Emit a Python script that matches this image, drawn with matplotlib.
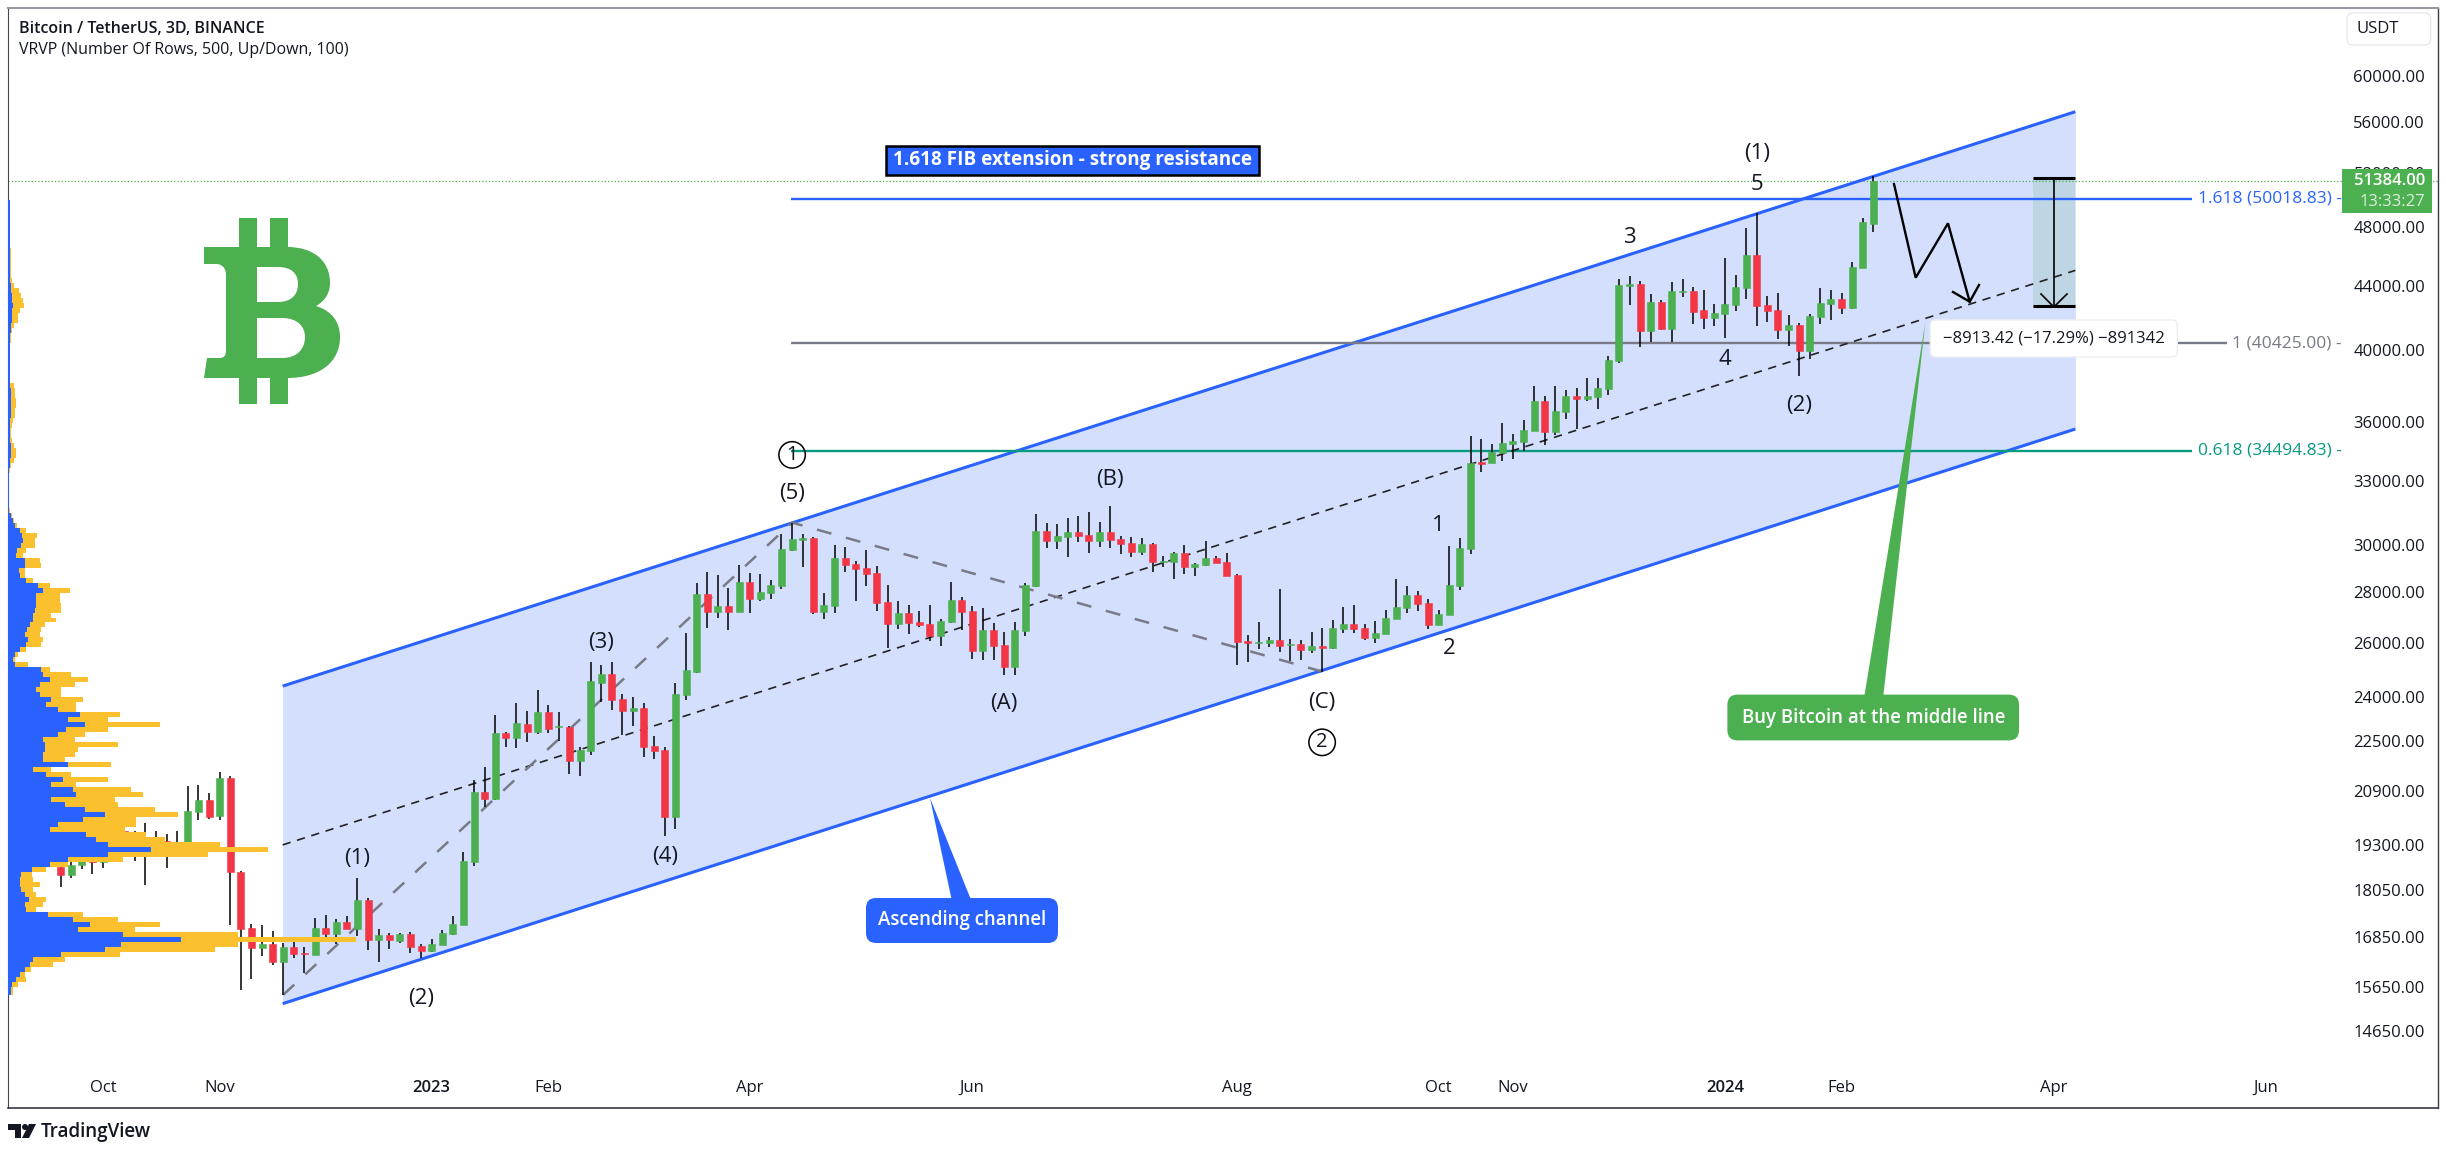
import matplotlib
matplotlib.use("Agg")
import matplotlib.pyplot as plt
import numpy as np
from matplotlib.patches import Circle, FancyBboxPatch, PathPatch, Polygon, Rectangle
from matplotlib.path import Path
from matplotlib.ticker import NullLocator

plt.rcParams['font.family'] = ['Open Sans', 'DejaVu Sans']

# 3D candles
opens = [18663, 18443, 18740, 19000, 18800, 19050, 19700, 19350, 19500, 19300, 19400, 19200, 19378, 20260, 20609, 20120,
         21302, 18546, 17077, 16572, 16673, 16239, 16597, 16450, 16404, 17077, 16925, 17228, 17051, 17785, 16756, 16900,
         16730, 16925, 16622, 16497, 16648, 16925, 17153, 18817, 20861, 20640, 22762, 22593, 23070, 22800, 23476, 22950,
         22956, 21818, 22164, 24505, 24834, 23917, 23510, 23612, 22322, 22186, 20111, 24066, 24906, 27934, 27207, 27444,
         27207, 28441, 27720, 27976, 28272, 29797, 30253, 30345, 27207, 27444, 29459, 29205, 29036, 28822, 27600, 26735,
         27168, 26814, 26735, 26263, 26814, 27680, 27245, 25675, 26500, 25910, 25090, 26460, 28272, 30663, 30207, 30390,
         30617, 30481, 30207, 30617, 30299, 30130, 29712, 30071, 29277, 29289, 29670, 29078, 29163, 29459, 29289, 28737,
         26067, 25988, 25988, 26106, 25910, 25948, 25712, 25870, 25790, 26540, 26735, 26579, 26185, 26343, 26933, 27364,
         27890, 27560, 26696, 27089, 28272, 29843, 33930, 33880, 34371, 34850, 34956, 35538, 37123, 35485, 36541, 37404,
         37233, 37347, 37802, 39395, 44008, 44140, 41185, 42961, 41307, 43612, 43678, 42471, 41980, 42226, 42778, 43876,
         46060, 42778, 42471, 41246, 41553, 39963, 42041, 42839, 43150, 42594, 45194, 48190]
highs = [18925, 18925, 19100, 19150, 19300, 19800, 19800, 19700, 19926, 19700, 19600, 19700, 21030, 21082, 20839, 21470,
         21365, 18573, 17178, 17135, 16999, 16690, 16774, 16589, 17330, 17405, 17304, 17362, 18375, 17840, 17051, 16950,
         16950, 16975, 16673, 16800, 17026, 17380, 19090, 21239, 21650, 23374, 22780, 23780, 23510, 24249, 23712, 23460,
         23000, 22290, 25247, 25163, 25247, 24102, 24000, 23790, 22660, 22290, 24500, 26382, 28399, 28865, 28737, 28187,
         29163, 28822, 28780, 28526, 30527, 31030, 30527, 30390, 27976, 30025, 29935, 29332, 29797, 29120, 28315, 27640,
         27470, 27245, 27470, 26933, 28441, 27807, 27444, 27364, 26775, 26420, 26814, 28399, 31440, 31028, 30983, 31256,
         31350, 31497, 31042, 31800, 30435, 30390, 30344, 30116, 29543, 29712, 30025, 29250, 30207, 29543, 29670, 28780,
         26303, 26814, 26224, 28145, 26146, 26106, 26420, 26579, 26893, 27404, 27470, 26735, 26854, 27285, 28568, 28272,
         28060, 27720, 27285, 29980, 30344, 35274, 35098, 34850, 35961, 35380, 36120, 37973, 37404, 37973, 37745, 37860,
         38428, 38428, 39680, 44470, 44668, 44338, 43480, 43084, 44272, 44470, 43942, 43744, 42839, 45854, 44734, 47943,
         49000, 43348, 43546, 42165, 41675, 42226, 43876, 43744, 43546, 45590, 48600, 51750]
lows = [18120, 18375, 18627, 18472, 18650, 18950, 19100, 18850, 18193, 19100, 18650, 19050, 19300, 20002, 20040, 20020,
        17153, 15581, 15823, 16364, 16169, 15464, 16333, 15973, 16390, 16845, 16673, 17040, 16856, 16521, 16239, 16540,
        16700, 16450, 16326, 16474, 16640, 16900, 17140, 18709, 20404, 20600, 22288, 22260, 22457, 22708, 22735, 22490,
        21430, 21345, 22030, 23820, 23544, 22684, 23000, 21975, 21910, 19534, 19759, 23883, 24870, 26579, 26970, 26500,
        27180, 27168, 27640, 27720, 28145, 29755, 29078, 27100, 26930, 27168, 28865, 27640, 28272, 27245, 25790, 26540,
        26343, 26617, 26067, 25870, 26775, 26500, 25383, 25346, 25346, 24798, 24798, 26263, 28230, 29880, 29840, 29500,
        30160, 29670, 29934, 29888, 29627, 29500, 29586, 28865, 29078, 28568, 28780, 28695, 29120, 29240, 28680, 25163,
        25273, 25750, 25830, 25640, 25310, 25346, 25600, 24910, 25750, 26382, 26382, 26106, 25988, 26320, 26920, 27168,
        27245, 26540, 26690, 27060, 28105, 29628, 33420, 33870, 33993, 34091, 34484, 35500, 34800, 35326, 36173, 35644,
        37123, 36700, 37460, 39280, 42777, 40190, 40510, 41246, 40510, 43280, 41614, 41307, 41491, 40755, 42410, 43150,
        41491, 41736, 40694, 40265, 38540, 39508, 41614, 41858, 42226, 42550, 45170, 47650]
closes = [18443, 18736, 18850, 18800, 19050, 19550, 19350, 19500, 19300, 19400, 19200, 19378, 20287, 20609, 20102, 21302,
          18526, 17051, 16579, 16673, 16239, 16597, 16427, 16430, 17077, 16925, 17228, 17051, 17785, 16756, 16900, 16756,
          16925, 16597, 16497, 16673, 16950, 17178, 18840, 20861, 20640, 22762, 22593, 23080, 22800, 23476, 22880, 22990,
          21818, 22186, 24578, 24834, 23883, 23510, 23612, 22288, 22155, 20111, 24102, 24980, 27934, 27207, 27444, 27207,
          28441, 27720, 28018, 28315, 29840, 30300, 30345, 27207, 27470, 29459, 29163, 28993, 28780, 27565, 26735, 27168,
          26775, 26696, 26263, 26854, 27680, 27207, 25675, 26500, 25870, 25090, 26500, 28315, 30663, 30207, 30435, 30617,
          30435, 30207, 30617, 30253, 30071, 29712, 30071, 29289, 29332, 29670, 29078, 29205, 29459, 29250, 28695, 26025,
          25988, 26025, 26106, 25870, 25948, 25712, 25870, 25790, 26579, 26735, 26540, 26185, 26382, 26950, 27404, 27890,
          27522, 26696, 27128, 28315, 29888, 33895, 33850, 34435, 34903, 35009, 35591, 37123, 35485, 36594, 37404, 37233,
          37404, 37860, 39451, 44074, 44140, 41185, 42961, 41307, 43678, 43678, 42347, 41980, 42287, 42839, 43942, 46060,
          42716, 42410, 41246, 41553, 39963, 42103, 42900, 43150, 42594, 45260, 48318, 51384]

# visible range volume profile, one entry per row from the top row down
vp_total = [2, 2, 2, 2, 2, 2, 2, 2, 2, 2, 3, 3, 3, 3, 3, 3, 4,
            6, 11, 13, 15, 16, 12, 10, 10, 6, 4, 3, 3, 2,
            2, 2, 2, 2, 2, 2, 2,
            6, 7, 7, 8, 8, 7, 7, 5, 4, 3, 3, 4, 6, 8, 8, 6, 3, 2,
            1, 1, 1, 1, 1, 1, 1, 2, 4,
            6, 9, 18, 29, 27, 27, 18, 15, 32, 33, 17, 17, 25, 42, 62, 52, 52, 53, 53, 43,
            48, 37, 33, 32, 35, 33, 18, 10, 7, 20, 42, 63, 80, 67, 53, 53, 75, 68, 68, 112,
            100, 152, 100, 77, 67, 110, 70, 67, 57, 103, 43, 63,
            100, 68, 123, 135, 107, 110, 147, 170, 128, 128, 117, 138, 157, 212, 260, 200, 115, 60, 38, 24,
            25, 32, 25, 28, 38, 35, 28, 75, 110, 152, 127, 230, 348, 230, 207, 112, 57, 45, 23, 17,
            18, 10, 5, 5]
vp_up = [2, 2, 2, 2, 2, 2, 2, 2, 2, 2, 2, 2, 2, 2, 2, 2, 2,
         3, 3, 4, 4, 5, 4, 4, 4, 3, 3, 2, 2, 2,
         2, 2, 2, 2, 2, 2, 2,
         2, 3, 3, 3, 3, 3, 3, 2, 2, 2, 2, 2, 3, 3, 3, 2, 2, 1,
         1, 1, 1, 1, 1, 1, 1, 1, 3,
         5, 7, 12, 14, 15, 13, 9, 8, 17, 17, 11, 12, 18, 30, 35, 28, 28, 28, 27, 25,
         25, 22, 19, 17, 20, 18, 12, 7, 5, 7, 33, 35, 42, 32, 28, 32, 43, 38, 50, 72,
         60, 77, 58, 50, 35, 37, 37, 35, 35, 60, 25, 38,
         55, 43, 65, 68, 43, 57, 77, 97, 75, 50, 42, 78, 88, 100, 143, 100, 60, 42, 24, 13,
         12, 12, 13, 17, 21, 17, 18, 40, 65, 82, 70, 115, 173, 113, 97, 53, 25, 22, 17, 12,
         8, 4, 3, 3]

price_ticks = [60000, 56000, 52000, 48000, 44000, 40000, 36000, 33000, 30000, 28000, 26000, 24000,
               22500, 20900, 19300, 18050, 16850, 15650, 14650]
time_ticks = [4, 15, 35, 46, 65, 86, 111, 130, 137, 157, 168, 188, 208]
time_labels = ["Oct", "Nov", "2023", "Feb", "Apr", "Jun", "Aug", "Oct", "Nov", "2024", "Feb", "Apr", "Jun"]

fib_levels = [50018.83, 40425.00, 34494.83]
fib_names = ["1.618 (50018.83) -", "1 (40425.00) -", "0.618 (34494.83) -"]
fib_colors = ["#2962ff", "#787b86", "#089981"]
fib_ends = [201.1, 204.4, 201.1]

wave_labels = ["(1)", "(2)", "(3)", "(4)", "(5)", "(A)", "(B)", "(C)", "1", "2", "3", "4", "5", "(1)", "(2)"]
wave_x = [28, 34, 51, 57, 69, 89, 99, 119, 130, 131, 148, 157, 160, 160, 164]
wave_y = [18900, 15370, 26000, 18950, 32386, 23780, 33059, 23785, 30900, 25790, 47284, 39450, 51080, 53508, 36891]

channel_x = [20.94, 190.06]
channel_top = [24380, 56883]
channel_mid = [19290, 45014]
channel_bottom = [15263, 35622]

last_price = 51384
range_top, range_bottom = 51560, 42720

GREEN = "#4caf50"
RED = "#f23645"
BLUE = "#2962ff"
GOLD = "#fbc02d"
DARK = "#131722"

fig = plt.figure(figsize=(24.46, 11.55), dpi=100, facecolor="white")
ax = fig.add_axes([8 / 2446, 1 - 1108 / 1155, 2430 / 2446, 1100 / 1155])
ax.set_yscale("log")
ax.set_xlim(-4.97, 224.27)
ax.set_ylim(13086, 66283)

# channel
ax.fill_between(channel_x, channel_bottom, channel_top, color="#d3dffd", lw=0, zorder=1)
ax.plot(channel_x, channel_top, color=BLUE, lw=2.2, zorder=3, solid_capstyle="butt")
ax.plot(channel_x, channel_bottom, color=BLUE, lw=2.2, zorder=3, solid_capstyle="butt")
ax.plot(channel_x, channel_mid, color="#222222", lw=1.2, ls=(0, (5, 4)), zorder=4)

# measured range
ax.fill_between([186.1, 190.06], range_bottom, range_top, color="#bed6e3", lw=0, zorder=1.5)
ax.hlines([range_top, range_bottom], 186.1, 190.06, color="black", lw=2.2, zorder=6)

# candles
xs = np.arange(len(opens))
o, h, l, c = map(np.array, (opens, highs, lows, closes))
colors = np.where(c >= o, GREEN, RED)
body_low = np.minimum(o, c)
body_high = np.maximum(o, c)
ax.vlines(xs, l, h, color="black", lw=1.1, zorder=4.5)
ax.bar(xs, body_high - body_low, bottom=body_low, width=0.66, color=colors, edgecolor=colors, lw=0.4, zorder=5)

# fib levels
for level, name, color, end in zip(fib_levels, fib_names, fib_colors, fib_ends):
    ax.hlines(level, 68.9, end, color=color, lw=1.7, zorder=3)
    ax.text(215.2, level, name, color=color, fontsize=12.5, ha="right", va="center", zorder=6)

# elliott wave path
ax.plot([21, 69, 119], [lows[21], highs[69], lows[119]], color="#787b86", lw=1.8, ls=(0, (6, 6)), zorder=4.2)

ax.axhline(last_price, color=GREEN, lw=0.9, ls=":", zorder=2)

for text, x, y in zip(wave_labels, wave_x, wave_y):
    ax.text(x, y, text, fontsize=16, ha="center", va="center", color=DARK, zorder=7)

circle_box = dict(boxstyle="circle,pad=0.16", fc="none", ec="black", lw=1.1)
ax.text(69, 34290, "1", fontsize=14.5, ha="center", va="center", color=DARK, bbox=circle_box, zorder=7)
ax.text(119, 22440, "2", fontsize=14.5, ha="center", va="center", color=DARK, bbox=circle_box, zorder=7)

# axis labels sit inside the chart frame, like the TradingView panes
ax.yaxis.tick_right()
ax.set_yticks(price_ticks, [f"{p:.2f}" for p in price_ticks])
ax.yaxis.set_minor_locator(NullLocator())
ax.tick_params(axis="y", length=0, pad=-9.4, labelsize=12, labelcolor=DARK)
for label in ax.get_yticklabels():
    label.set_ha("right")
ax.set_xticks(time_ticks, time_labels)
ax.tick_params(axis="x", length=0, pad=-20, labelsize=12, labelcolor=DARK)
for label in ax.get_xticklabels():
    label.set_va("top")
    if label.get_text().isdigit():
        label.set_fontweight("semibold")

ax.spines["top"].set_color("#9598a1")
ax.spines["top"].set_linewidth(1.5)
ax.spines["left"].set_color("#434651")
ax.spines["left"].set_linewidth(0.8)
ax.spines["right"].set_color("#363a45")
ax.spines["right"].set_linewidth(1)
ax.spines["bottom"].set_color("#363a45")
ax.spines["bottom"].set_linewidth(1.2)

# volume profile on its own width scale
ax_vp = ax.twiny()
ax_vp.set_xlim(0, 2430)
ax_vp.axis("off")
vp_rows = np.geomspace(49933, 15460, len(vp_total))
ax_vp.fill_betweenx(vp_rows, 0, vp_total, step="mid", color=GOLD, lw=0)
ax_vp.fill_betweenx(vp_rows, 0, vp_up, step="mid", color=BLUE, lw=0)

# everything else is a drawing placed in screen pixels
over = fig.add_axes([0, 0, 1, 1], facecolor="none")
over.set_xlim(0, 2446)
over.set_ylim(1155, 0)
over.axis("off")


def callout(x0, y0, x1, y1, color, text, weight="semibold", size=13.4):
    over.add_patch(FancyBboxPatch((x0, y0), x1 - x0, y1 - y0, boxstyle="round,pad=0,rounding_size=10",
                                  fc=color, ec="none", zorder=5))
    over.text((x0 + x1) / 2, (y0 + y1) / 2, text, color="white", fontsize=size, fontweight=weight,
              ha="center", va="center", zorder=6)


over.add_patch(Polygon([(930, 798), (951.5, 899), (970.7, 899)], fc=BLUE, ec="none", zorder=5))
callout(866, 898, 1058, 943, BLUE, "Ascending channel")
over.add_patch(Polygon([(1925.4, 322), (1864.4, 696), (1883.3, 696)], fc=GREEN, ec="none", zorder=5))
callout(1727.4, 694.6, 2019, 740.4, GREEN, "Buy Bitcoin at the middle line")

over.add_patch(Rectangle((886, 145.5), 373, 29, fc=BLUE, ec="black", lw=1.8, zorder=5))
over.text(1072.5, 160, "1.618 FIB extension - strong resistance", color="white", fontsize=13.6,
          fontweight="bold", ha="center", va="center", zorder=6)

# measure tooltip
over.add_patch(FancyBboxPatch((1930.3, 320), 247, 37, boxstyle="round,pad=0,rounding_size=5",
                              fc="white", ec="#eceef2", lw=1, zorder=5))
over.text(2054, 338.5, "\u22128913.42 (\u221217.29%) \u2212891342", color=DARK, fontsize=12,
          ha="center", va="center", zorder=6)

# down arrow inside the measured range
over.plot([2053.9, 2053.9], [180, 306], color="black", lw=1.2, zorder=6)
over.plot([2041, 2053.9, 2067], [294, 307, 294], color="black", lw=1.2, zorder=6)

# expected move
over.plot([1894, 1915.7, 1948, 1969.7], [184, 277.7, 223.3, 301.7], color="black", lw=1.7, zorder=6,
          solid_joinstyle="miter")
over.plot([1953, 1969.7, 1979], [292, 301.7, 285], color="black", lw=1.7, zorder=6)

# last price tag
over.add_patch(Rectangle((2342, 169), 89.7, 44.3, fc=GREEN, ec="none", zorder=5))
over.text(2425, 181, f"{last_price:.2f}", color="white", fontsize=12, fontweight="semibold",
          ha="right", va="center", zorder=6)
over.text(2425, 202, "13:33:27", color="#dff0e0", fontsize=12, ha="right", va="center", zorder=6)

# currency button
over.add_patch(FancyBboxPatch((2347, 13), 83.7, 32, boxstyle="round,pad=0,rounding_size=6",
                              fc="white", ec="#e0e3eb", lw=0.8, zorder=5))
over.text(2378, 29, "USDT", color=DARK, fontsize=12, ha="center", va="center", zorder=6)

# legend lines
over.text(19, 29, "Bitcoin / TetherUS, 3D, BINANCE", color=DARK, fontsize=11.5, fontweight="semibold",
          ha="left", va="center")
over.text(19, 50.5, "VRVP (Number Of Rows, 500, Up/Down, 100)", color=DARK, fontsize=11.5, ha="left", va="center")

# bitcoin logo
verts = [(204, 247), (287, 247), (315, 247), (330, 262), (330, 283), (330, 293), (325, 301), (316, 306),
         (332, 311), (340, 322), (340, 337), (340, 362), (320, 378), (287, 378), (204, 378), (207, 358),
         (219, 358), (224, 358), (226, 356), (226, 350), (226, 275), (226, 268), (222, 264), (216, 264),
         (204, 264), (204, 247),
         (257, 267), (257, 302), (278, 302), (291, 302), (298, 295), (298, 284), (298, 274), (292, 267),
         (278, 267), (257, 267),
         (257, 318), (257, 358), (282, 358), (297, 358), (305, 349), (305, 337), (305, 327), (298, 318),
         (282, 318), (257, 318)]
codes = [Path.MOVETO, Path.LINETO] + [Path.CURVE4] * 12 + [Path.LINETO, Path.LINETO, Path.LINETO] + \
        [Path.CURVE4] * 3 + [Path.LINETO] + [Path.CURVE4] * 3 + [Path.LINETO, Path.CLOSEPOLY] + \
        [Path.MOVETO, Path.LINETO, Path.LINETO] + [Path.CURVE4] * 6 + [Path.CLOSEPOLY] + \
        [Path.MOVETO, Path.LINETO, Path.LINETO] + [Path.CURVE4] * 6 + [Path.CLOSEPOLY]
over.add_patch(PathPatch(Path(verts, codes), fc=GREEN, ec="none"))
for bx in (239, 270):
    over.add_patch(Rectangle((bx, 218), 18, 30, fc=GREEN, ec="none"))
    over.add_patch(Rectangle((bx, 377), 18, 27, fc=GREEN, ec="none"))

# tradingview mark
over.add_patch(Rectangle((8, 1124), 13, 6, fc=DARK, ec="none"))
over.add_patch(Rectangle((14.5, 1124), 6.5, 14, fc=DARK, ec="none"))
over.add_patch(Circle((25, 1127), 3, fc=DARK, ec="none"))
over.add_patch(Polygon([(29, 1124), (36, 1124), (29, 1138), (22, 1138)], fc=DARK, ec="none"))
over.text(41, 1132, "TradingView", color=DARK, fontsize=13.5, fontweight="semibold", ha="left", va="center")

fig.savefig("out.png", dpi=100)
